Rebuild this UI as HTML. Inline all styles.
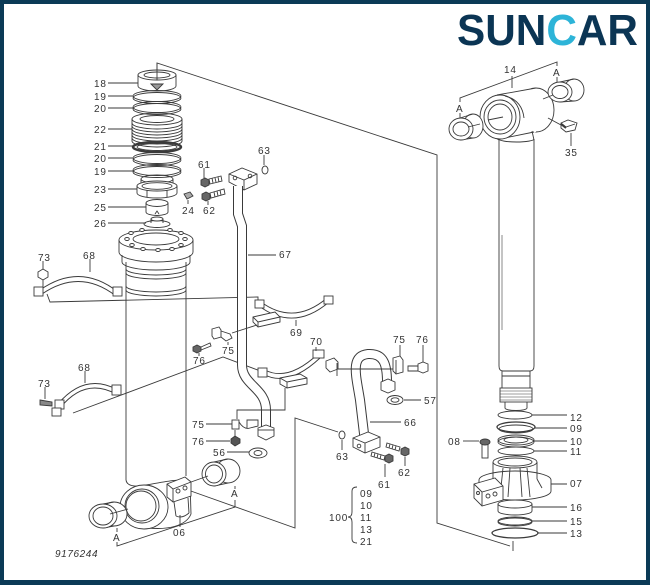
<!DOCTYPE html>
<html><head><meta charset="utf-8"><style>
html,body{margin:0;padding:0;background:#0b3a56;}
svg{display:block}
text{font-family:"Liberation Sans",sans-serif;}
</style></head><body>
<svg width="650" height="585" viewBox="0 0 650 585" xmlns="http://www.w3.org/2000/svg">
<rect x="0" y="0" width="650" height="585" fill="#0b3a56"/>
<rect x="4" y="4" width="642" height="576" fill="#fff"/>
<text x="457" y="45" font-weight="bold" font-size="44" fill="#0b3554" textLength="181" lengthAdjust="spacingAndGlyphs">SUN<tspan fill="#2db4d8">C</tspan>AR</text>

<g fill="none" stroke="#3a3a3a" stroke-width="0.9">
<polyline points="157,78 157,63 437,155 437,523 510,546"/>
<line x1="513" y1="541" x2="513" y2="551"/>
<polyline points="188,490 295,528 295,418 338,432"/>

<path d="M138,75 L138,86 A19,5 0 0 0 176,86 L176,75" fill="#fff"/>
<ellipse cx="157" cy="75" rx="19" ry="5" fill="#fff"/>
<ellipse cx="157" cy="75" rx="13" ry="3"/>
<path d="M151,84 L157,90 L163,84 Z" fill="#999"/>
<line x1="157" y1="63" x2="157" y2="80"/>
<ellipse cx="157" cy="96" rx="24" ry="5.5"/><ellipse cx="157" cy="98" rx="24" ry="5.5"/>
<ellipse cx="157" cy="107" rx="24" ry="5.5"/><ellipse cx="157" cy="109" rx="24" ry="5.5"/>
<ellipse cx="157" cy="119" rx="25" ry="6"/>
<ellipse cx="157" cy="119" rx="17" ry="3.5"/>
<line x1="132" y1="119" x2="132" y2="141"/><line x1="182" y1="119" x2="182" y2="141"/>
<path d="M132,123 A25,6 0 0 0 182,123 M132,126 A25,6 0 0 0 182,126 M132,129 A25,6 0 0 0 182,129 M132,132 A25,6 0 0 0 182,132 M132,135 A25,6 0 0 0 182,135 M132,138 A25,6 0 0 0 182,138 M132,141 A25,6 0 0 0 182,141"/>
<ellipse cx="157" cy="147" rx="24" ry="5" stroke-width="2.4"/>
<ellipse cx="157" cy="147" rx="20" ry="3.5"/>
<ellipse cx="157" cy="158" rx="24" ry="5.5"/><ellipse cx="157" cy="160" rx="24" ry="5.5"/>
<ellipse cx="157" cy="170" rx="24" ry="5.5"/><ellipse cx="157" cy="172" rx="24" ry="5.5"/>
<path d="M141,179 L141,186 M173,179 L173,186"/>
<ellipse cx="157" cy="179" rx="16" ry="4"/>
<ellipse cx="157" cy="186" rx="20" ry="5" fill="#fff"/>
<ellipse cx="157" cy="186" rx="15" ry="3.3"/>
<path d="M137,186 L137,193 A20,5 0 0 0 177,193 L177,186"/>
<path d="M147,190 L147,197 M167,190 L167,197"/>
<polygon points="184,194 190,192 193,196 187,199" fill="#aaa"/>
<line x1="188" y1="200" x2="188" y2="204"/>
<ellipse cx="157" cy="203" rx="11" ry="3.5"/>
<path d="M146,203 L146,212 A11,3.5 0 0 0 168,212 L168,203"/>
<path d="M155,214 L157,211 L159,214"/>
<ellipse cx="157" cy="224" rx="13" ry="3.5"/>
<path d="M151,219 L151,223 M163,219 L163,223"/>
<ellipse cx="157" cy="219" rx="6" ry="2" fill="#fff"/>
<ellipse cx="156" cy="240" rx="37" ry="10" fill="#fff"/>
<ellipse cx="156" cy="239" rx="23" ry="6"/>
<path d="M119,240 L119,252 A37,10 0 0 0 193,252 L193,240"/>
<path d="M122,255 L122,262 A34,8 0 0 0 190,262 L190,255"/>
<g fill="#fff">
<ellipse cx="127" cy="239" rx="2.3" ry="1.5"/><ellipse cx="132" cy="245" rx="2.3" ry="1.5"/>
<ellipse cx="143" cy="249" rx="2.3" ry="1.5"/><ellipse cx="158" cy="250" rx="2.3" ry="1.5"/>
<ellipse cx="172" cy="249" rx="2.3" ry="1.5"/><ellipse cx="181" cy="245" rx="2.3" ry="1.5"/>
<ellipse cx="185" cy="239" rx="2.3" ry="1.5"/><ellipse cx="181" cy="233" rx="2.3" ry="1.5"/>
<ellipse cx="170" cy="230" rx="2.3" ry="1.5"/><ellipse cx="142" cy="230" rx="2.3" ry="1.5"/>
<ellipse cx="131" cy="233" rx="2.3" ry="1.5"/>
</g>
<path d="M126,269 A30,6 0 0 0 186,269 M126,273 A30,6 0 0 0 186,273 M126,286 A30,6 0 0 0 186,286 M126,290 A30,6 0 0 0 186,290"/>
<line x1="126" y1="262" x2="126" y2="480"/>
<line x1="186" y1="262" x2="186" y2="476"/>
<path d="M126,480 Q127,487 140,486 C160,483 178,478 190,481 L191,514 C186,526 168,530 148,528" fill="#fff"/>
<ellipse cx="144" cy="507" rx="24" ry="22" fill="#fff"/>
<ellipse cx="142" cy="506" rx="17" ry="17"/>
<ellipse cx="141" cy="506" rx="15" ry="15"/>
<polygon points="167,484 185,477 191,482 191,496 173,502 167,497" fill="#fff"/>
<path d="M167,484 L173,489 L191,482 M173,489 L173,502"/>
<circle cx="178" cy="491" r="2"/><circle cx="185" cy="488" r="2"/>
<path d="M174,502 L176,516 M188,498 L189,513 M176,516 Q182,519 189,513"/>
<line x1="180" y1="515" x2="180" y2="527"/>
<ellipse cx="114" cy="514" rx="13" ry="12" fill="#fff"/>
<path d="M103,504 L114,502 M103,528 L114,526" />
<ellipse cx="103" cy="516" rx="14" ry="12" fill="#fff"/>
<ellipse cx="103" cy="516" rx="10" ry="9"/>
<line x1="110" y1="514" x2="128" y2="509"/>
<ellipse cx="228" cy="471" rx="12" ry="12" fill="#fff"/>
<path d="M214,462 L228,459 M214,486 L228,483"/>
<ellipse cx="214" cy="474" rx="12" ry="12" fill="#fff"/>
<ellipse cx="214" cy="474" rx="8.5" ry="9"/>
<line x1="208" y1="476" x2="191" y2="482"/>
<line x1="117" y1="528" x2="117" y2="532"/>
<polyline points="117,542 117,546 235,507 235,500"/>
<line x1="235" y1="486" x2="235" y2="489"/>

<path d="M40,290 Q80,262 118,292"/>
<path d="M42,294 Q80,268 116,296"/>
<rect x="34" y="287" width="9" height="9" fill="#fff"/>
<rect x="113" y="287" width="9" height="9" fill="#fff"/>
<polygon points="38,272 43,269 48,272 48,277 43,280 38,277" fill="#fff"/>
<line x1="43" y1="280" x2="43" y2="287"/>
<polyline points="47,294 50,302 258,297 258,302"/>
<path d="M58,404 Q85,372 118,390"/>
<path d="M60,408 Q85,377 116,394"/>
<rect x="55" y="400" width="9" height="9" fill="#fff"/>
<rect x="52" y="408" width="9" height="8" fill="#fff"/>
<rect x="112" y="385" width="9" height="10" fill="#fff"/>
<path d="M40,400 L52,402 L52,406 L40,405 Z" fill="#888"/>
<polyline points="73,413 223,357 263,372"/>

<ellipse cx="265" cy="170" rx="3" ry="4"/>
<polygon points="229,174 242,168 257,174 257,184 244,190 229,182" fill="#fff"/>
<path d="M229,174 L244,180 L257,174 M244,180 L244,190"/>
<circle cx="235" cy="178" r="1.8"/><circle cx="250" cy="176" r="1.8"/>
<polygon points="201,180 205,178 209,180 209,185 205,187 201,185" fill="#666"/>
<polygon points="209,179 221,176 222,181 210,184" fill="#fff"/>
<path d="M212,178 L213,183 M215,178 L216,182 M218,177 L219,182"/>
<polygon points="202,194 206,192 210,194 210,199 206,201 202,199" fill="#666"/>
<polygon points="210,193 224,189 225,194 211,198" fill="#fff"/>
<path d="M214,192 L215,197 M217,191 L218,196 M220,190 L221,195"/>
<path d="M238,186 L238,214 L242,226 L242,365 C242,385 266,388 266,410 L266,428" stroke="#3a3a3a" stroke-width="10"/>
<path d="M238,186 L238,214 L242,226 L242,365 C242,385 266,388 266,410 L266,428" stroke="#fff" stroke-width="8"/>
<polygon points="258,428 266,425 274,428 274,436 266,440 258,436" fill="#fff"/>
<path d="M258,430 L274,430"/>
<line x1="248" y1="255" x2="276" y2="255"/>
<path d="M259,306 Q294,332 329,302"/>
<path d="M261,302 Q294,326 327,298"/>
<rect x="255" y="300" width="9" height="8" fill="#fff"/>
<rect x="324" y="296" width="9" height="8" fill="#fff"/>
<polygon points="253,317 275,312 280,317 280,322 258,327 253,322" fill="#fff"/>
<path d="M253,317 L258,322 L280,317 M258,322 L258,327"/>
<line x1="296" y1="320" x2="296" y2="326"/>
<polygon points="212,329 219,327 221,330 221,337 214,339 212,336" fill="#fff"/>
<path d="M221,331 L230,334 L232,338 L226,341 L221,337"/>
<line x1="232" y1="333" x2="257" y2="325"/>
<polygon points="193,347 197,345 201,347 201,351 197,353 193,351" fill="#666"/>
<path d="M201,347 L210,343 L211,346 L201,350"/>
<line x1="228" y1="342" x2="228" y2="345"/>
<line x1="199" y1="353" x2="199" y2="356"/>
<path d="M263,374 Q288,388 320,358"/>
<path d="M265,370 Q288,382 318,354"/>
<rect x="258" y="368" width="9" height="9" fill="#fff"/>
<rect x="313" y="350" width="11" height="8" fill="#fff"/>
<polygon points="280,378 300,374 307,378 307,384 287,388 280,384" fill="#fff"/>
<path d="M280,378 L287,382 L307,378 M287,382 L287,388"/>
<polygon points="326,361 334,358 338,362 338,369 330,372 326,368" fill="#fff"/>
<line x1="316" y1="347" x2="316" y2="351"/>
<polyline points="285,388 285,410 237,410 237,419"/>
<rect x="232" y="420" width="7" height="9" fill="#fff"/>
<path d="M239,422 Q244,430 250,428 L258,426 L258,420 L247,420 L247,428"/>
<line x1="206" y1="424" x2="232" y2="424"/>
<line x1="235" y1="430" x2="235" y2="437"/>
<polygon points="231,439 235,436 240,439 240,443 235,446 231,443" fill="#555"/>
<line x1="206" y1="441" x2="230" y2="441"/>
<ellipse cx="258" cy="453" rx="9" ry="5" fill="#fff"/>
<ellipse cx="258" cy="453" rx="4" ry="2.5"/>
<line x1="227" y1="452" x2="249" y2="452"/>
<path d="M365,442 L360,400 C356,375 350,356 368,354 C384,353 387,365 387,382" stroke="#3a3a3a" stroke-width="10"/>
<path d="M365,442 L360,400 C356,375 350,356 368,354 C384,353 387,365 387,382" stroke="#fff" stroke-width="8"/>
<polygon points="381,382 388,379 395,382 395,390 388,393 381,390" fill="#fff"/>
<polygon points="353,438 368,432 380,437 380,447 365,453 353,447" fill="#fff"/>
<path d="M353,438 L365,443 L380,437 M365,443 L365,453"/>
<circle cx="359" cy="446" r="1.8"/>
<line x1="337" y1="369" x2="394" y2="369"/>
<line x1="337" y1="363" x2="337" y2="376"/>
<line x1="370" y1="422" x2="401" y2="422"/>
<polygon points="387,443 400,447 399,451 386,447" fill="#fff"/>
<path d="M390,444 L389,448 M393,445 L392,449 M396,446 L395,450"/>
<polygon points="401,449 405,447 409,449 409,454 405,456 401,454" fill="#666"/>
<line x1="405" y1="457" x2="405" y2="466"/>
<polygon points="372,452 385,456 384,460 371,456" fill="#fff"/>
<path d="M375,453 L374,457 M378,454 L377,458 M381,455 L380,459"/>
<polygon points="385,456 389,454 393,456 393,461 389,463 385,461" fill="#666"/>
<line x1="385" y1="464" x2="385" y2="477"/>
<ellipse cx="342" cy="435" rx="3" ry="4"/>
<line x1="342" y1="440" x2="342" y2="450"/>
<path d="M393,358 L400,356 L403,360 L403,372 L396,374 L393,371 Z" fill="#fff"/>
<path d="M396,360 L396,374" />
<path d="M408,366 L418,366 L418,371 L408,371 Z" fill="#fff"/>
<polygon points="418,364 423,362 428,364 428,371 423,373 418,371" fill="#fff"/>
<line x1="400" y1="345" x2="400" y2="356"/>
<line x1="423" y1="345" x2="423" y2="362"/>
<ellipse cx="395" cy="400" rx="8" ry="4.5" fill="#fff"/>
<ellipse cx="395" cy="400" rx="4" ry="2.2"/>
<line x1="404" y1="400" x2="421" y2="400"/>
<path d="M357,487 Q352,487 352,491 L352,512 Q352,517 348,517 Q352,517 352,522 L352,539 Q352,543 357,543"/>

<ellipse cx="536" cy="110" rx="18" ry="22" fill="#fff"/>
<polygon points="500,95 536,88 536,132 500,139" fill="#fff" stroke="none"/>
<path d="M497,95 L536,88 M500,139 L534,132"/>
<path d="M491,135 L499,140 M532,131 L534,140 M499,139 A17.5,3 0 0 0 534,139"/>
<ellipse cx="500" cy="117" rx="20" ry="22" fill="#fff"/>
<ellipse cx="500" cy="117" rx="16" ry="17"/>
<ellipse cx="500" cy="117" rx="12" ry="13"/>
<path d="M505,96 Q522,100 524,118" />
<line x1="488" y1="120" x2="503" y2="117"/>
<line x1="499" y1="139" x2="499" y2="366"/>
<line x1="534" y1="139" x2="534" y2="366"/>
<line x1="502" y1="235" x2="502" y2="330" stroke-width="0.6"/>
<path d="M499,366 Q499,371 503,371 L530,371 Q534,371 534,366"/>
<path d="M502,371 L502,388 M530,371 L530,388 M502,376 L530,376"/>
<rect x="500" y="388" width="32" height="14" fill="#fff"/>
<path d="M500,391 L532,391 M500,394 L532,394 M500,397 L532,397 M500,400 L532,400" stroke-width="0.6"/>
<path d="M505,402 L505,408 M527,402 L527,408 M505,408 A11,2.5 0 0 0 527,408"/>
<ellipse cx="473" cy="126" rx="10" ry="12" fill="#fff"/>
<path d="M460,118 L473,114 M460,140 L473,138"/>
<ellipse cx="461" cy="129" rx="12" ry="11" fill="#fff"/>
<ellipse cx="461" cy="129" rx="8" ry="7"/>
<line x1="468" y1="127" x2="480" y2="124"/>
<ellipse cx="574" cy="90" rx="10" ry="11" fill="#fff"/>
<path d="M560,82 L574,79 M560,102 L574,101"/>
<ellipse cx="560" cy="92" rx="12" ry="10" fill="#fff"/>
<ellipse cx="560" cy="92" rx="8" ry="6.5"/>
<line x1="553" y1="95" x2="543" y2="99"/>
<line x1="460" y1="113" x2="460" y2="118"/>
<polyline points="460,102 460,98 557,62 557,66"/>
<line x1="557" y1="77" x2="557" y2="82"/>
<line x1="512" y1="76" x2="512" y2="88"/>
<line x1="548" y1="118" x2="561" y2="125"/>
<polygon points="561,123 568,120 577,123 575,130 566,132 561,128" fill="#fff"/>
<path d="M561,123 L566,127 L575,124" />
<path d="M561,124 L566,128" stroke-width="2"/>
<line x1="571" y1="133" x2="571" y2="146"/>
<ellipse cx="515" cy="415" rx="17" ry="4"/>
<ellipse cx="516" cy="427" rx="19" ry="5" stroke-width="1.3"/><ellipse cx="516" cy="429" rx="17" ry="4"/>
<ellipse cx="516" cy="440" rx="18" ry="5"/><ellipse cx="516" cy="442" rx="18" ry="5"/><ellipse cx="516" cy="440" rx="12" ry="3"/>
<ellipse cx="516" cy="451" rx="18" ry="4"/>
<path d="M479,480 A36,9 0 0 1 551,480 L551,491 A36,9 0 0 1 479,491 Z" fill="#fff"/>
<path d="M493,462 L493,479 M537,462 L537,479"/>
<ellipse cx="515" cy="462" rx="22" ry="6" fill="#fff"/>
<ellipse cx="515" cy="462" rx="17" ry="4"/>
<path d="M493,479 L488,488 M537,479 L542,488 M503,468 L500,497 M510,468 L508,497 M520,468 L522,497 M527,468 L530,497"/>
<polygon points="474,484 495,478 503,486 503,500 482,506 474,498" fill="#fff"/>
<path d="M474,484 L482,492 L503,486 M482,492 L482,506"/>
<circle cx="488" cy="496" r="2"/><circle cx="495" cy="494" r="2"/><circle cx="478" cy="493" r="1.5"/>
<rect x="482" y="444" width="6" height="14" fill="#fff"/>
<ellipse cx="485" cy="442" rx="5" ry="3" fill="#666"/>
<line x1="463" y1="441" x2="479" y2="441"/>
<path d="M498,504 L498,511 A17,4 0 0 0 532,511 L532,504"/>
<ellipse cx="515" cy="504" rx="17" ry="4" fill="#fff"/>
<ellipse cx="515" cy="521" rx="17" ry="4"/><ellipse cx="515" cy="522" rx="17" ry="4"/>
<ellipse cx="515" cy="533" rx="23" ry="5" stroke-width="1.3"/>
<path d="M532,415 L567,415 M535,428 L567,428 M534,441 L567,441 M534,451 L567,451 M551,484 L567,484 M532,507 L567,507 M532,521 L567,521 M538,533 L567,533"/>
<path d="M108,83 L138,83 M108,96 L133,96 M108,108 L133,108 M108,129 L132,129 M108,146 L133,146 M108,158 L133,158 M108,171 L133,171 M108,189 L137,189 M108,207 L146,207 M108,223 L146,223"/>
<path d="M90,259 L90,272 M43,261 L43,269 M85,371 L85,383 M45,387 L45,399"/>
<path d="M204,168 L204,178 M208,201 L208,205 M264,155 L264,165"/>
</g>

<g fill="#333" font-size="10" letter-spacing="0.8">
<text x="94" y="87">18</text>
<text x="94" y="100">19</text>
<text x="94" y="112">20</text>
<text x="94" y="133">22</text>
<text x="94" y="150">21</text>
<text x="94" y="162">20</text>
<text x="94" y="175">19</text>
<text x="94" y="193">23</text>
<text x="94" y="211">25</text>
<text x="94" y="227">26</text>
<text x="182" y="214">24</text>
<text x="198" y="168">61</text>
<text x="203" y="214">62</text>
<text x="258" y="154">63</text>
<text x="279" y="258">67</text>
<text x="290" y="336">69</text>
<text x="38" y="261">73</text>
<text x="83" y="259">68</text>
<text x="78" y="371">68</text>
<text x="38" y="387">73</text>
<text x="222" y="354">75</text>
<text x="193" y="364">76</text>
<text x="310" y="345">70</text>
<text x="192" y="428">75</text>
<text x="192" y="445">76</text>
<text x="213" y="456">56</text>
<text x="393" y="343">75</text>
<text x="416" y="343">76</text>
<text x="424" y="404">57</text>
<text x="404" y="426">66</text>
<text x="336" y="460">63</text>
<text x="398" y="476">62</text>
<text x="378" y="488">61</text>
<text x="173" y="536">06</text>
<text x="329" y="521">100</text>
<text x="360" y="497">09</text>
<text x="360" y="509">10</text>
<text x="360" y="521">11</text>
<text x="360" y="533">13</text>
<text x="360" y="545">21</text>
<text x="504" y="73">14</text>
<text x="565" y="156">35</text>
<text x="448" y="445">08</text>
<text x="570" y="421">12</text>
<text x="570" y="432">09</text>
<text x="570" y="445">10</text>
<text x="570" y="455">11</text>
<text x="570" y="487">07</text>
<text x="570" y="511">16</text>
<text x="570" y="525">15</text>
<text x="570" y="537">13</text>
<text x="113" y="541" letter-spacing="0">A</text>
<text x="231" y="497" letter-spacing="0">A</text>
<text x="456" y="112" letter-spacing="0">A</text>
<text x="553" y="76" letter-spacing="0">A</text>
<text x="55" y="557" font-style="italic" letter-spacing="0.6">9176244</text>
</g>
</svg>
</body></html>
